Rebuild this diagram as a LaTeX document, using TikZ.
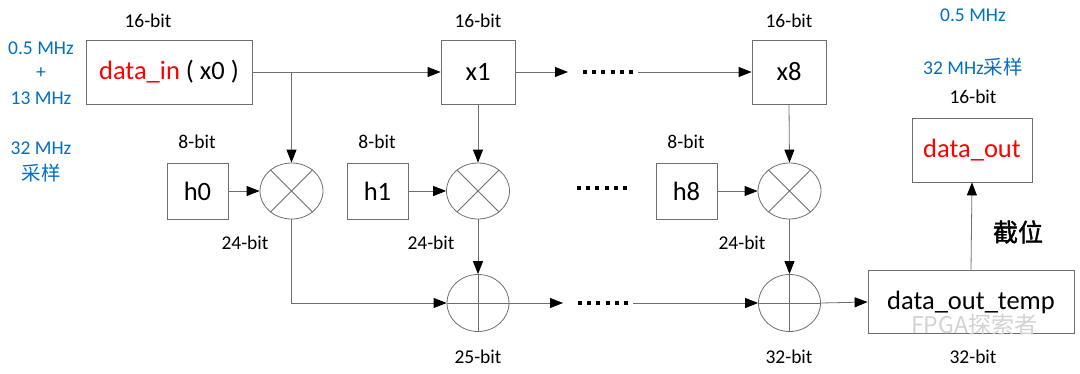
\documentclass[tikz,border=0pt]{standalone}
\usepackage{fontspec}
\setmainfont{Carlito}
\newfontfamily\cjk{Noto Sans CJK SC}
\newfontfamily\cjkb[FakeBold=1.6]{Noto Sans CJK SC}
\usetikzlibrary{shapes.geometric,arrows.meta}
\definecolor{lblue}{RGB}{0,112,192}
\definecolor{lgray}{RGB}{110,110,110}
\begin{document}
\begin{tikzpicture}[x=1pt,y=-1pt,
  lbl/.style={font=\fontsize{19.5}{22}\selectfont, inner sep=0pt},
  blu/.style={font=\fontsize{19.5}{22}\selectfont, text=lblue, inner sep=0pt},
  blk/.style={draw=lgray, line width=0.8pt, inner sep=0pt, font=\fontsize{26.5}{30}\selectfont},
  op/.style={ellipse, draw=lgray, line width=0.8pt, inner sep=0pt},
  ln/.style={draw=lgray, line width=0.8pt},
  arr/.style={ln, -{Triangle[length=13pt,width=10pt,color=black]}},
  dots/.style={line width=4pt, dash pattern=on 4pt off 5.2pt, black}
]
\useasboundingbox (0,0) rectangle (1080,373);
% blue labels
\node[blu] (l1) at (41,48) {0.5 MHz};
\node[blu] (l2) at (41,73) {+};
\node[blu] (l3) at (41,98) {13 MHz};
\node[blu] (l4) at (41,148) {32 MHz};
\node[blu] (l5) at (41,173) {\cjk 采样};
\node[blu] (r1) at (973,15) {0.5 MHz};
\node[blu] (r2) at (973,67) {32 MHz{\cjk 采样}};
% boxes
\node[blk, minimum width=166pt, minimum height=64pt] (din) at (169,72) {\textcolor{red}{data\_in} ( x0 )};
\node[blk, minimum width=74pt, minimum height=64pt] (x1) at (478,72) {x1};
\node[blk, minimum width=74pt, minimum height=64pt] (x8) at (789,72) {x8};
\node[blk, minimum width=61pt, minimum height=56pt] (h0) at (197.5,191) {h0};
\node[blk, minimum width=61pt, minimum height=56pt] (h1) at (377.5,191) {h1};
\node[blk, minimum width=61pt, minimum height=56pt] (h8) at (686.5,191) {h8};
\node[blk, minimum width=206pt, minimum height=63pt] (tmp) at (971,302) {data\_out\_temp};
\node[blk, minimum width=120pt, minimum height=64pt] (dout) at (972,150) {\textcolor{red}{data\_out}};
% operators
\foreach \n/\x in {m0/291.5, m1/478, m8/789.5}{
  \node[op, minimum width=63pt, minimum height=56pt] (\n) at (\x,191) {};
  \draw[ln] (\n.45) -- (\n.225) (\n.135) -- (\n.315);
}
\foreach \n/\x in {a1/478, a8/789.5}{
  \node[op, minimum width=62pt, minimum height=57pt] (\n) at (\x,303) {};
  \draw[ln] (\n.north) -- (\n.south) (\n.west) -- (\n.east);
}
% bit labels
\node[lbl] (b1) at (148,21) {16-bit};
\node[lbl] (b2) at (478,21) {16-bit};
\node[lbl] (b3) at (789,21) {16-bit};
\node[lbl] (b4) at (973,97) {16-bit};
\node[lbl] (b5) at (197,142) {8-bit};
\node[lbl] (b6) at (377,142) {8-bit};
\node[lbl] (b7) at (686,142) {8-bit};
\node[lbl] (b8) at (245,243) {24-bit};
\node[lbl] (b9) at (431,243) {24-bit};
\node[lbl] (b10) at (742,243) {24-bit};
\node[lbl] (b11) at (478,357) {25-bit};
\node[lbl] (b12) at (789,357) {32-bit};
\node[lbl] (b13) at (973,357) {32-bit};
\node[inner sep=0pt, font=\fontsize{25}{28}\selectfont\cjkb] (cut) at (1018,232) {截位};
\node[inner sep=0pt, text=gray!35, font=\fontsize{23}{26}\selectfont\cjk] (wm) at (974,325) {FPGA探索者};
% coordinates for dotted gaps
\coordinate (t1) at (568,72);
\coordinate (t2) at (638,72);
\coordinate (u1) at (563,303);
\coordinate (u2) at (633,303);
% connectors
\draw[arr] (din.east) -- (x1.west);
\draw[arr] (m0.north |- din.east) -- (m0.north);
\draw[arr] (x1.east) -- (t1);
\draw[dots] (583,72) -- (633,72);
\draw[arr] (t2) -- (x8.west);
\draw[arr] (x1.south) -- (m1.north);
\draw[arr] (x8.south) -- (m8.north);
\draw[arr] (h0.east) -- (m0.west);
\draw[arr] (h1.east) -- (m1.west);
\draw[arr] (h8.east) -- (m8.west);
\draw[dots] (577,188) -- (627,188);
\draw[arr] (m0.south) -- (m0.south |- a1.west) -- (a1.west);
\draw[arr] (m1.south) -- (a1.north);
\draw[arr] (m8.south) -- (a8.north);
\draw[arr] (a1.east) -- (u1);
\draw[dots] (578,303) -- (628,303);
\draw[arr] (u2) -- (a8.west);
\draw[arr] (a8.east) -- (tmp.west);
\draw[arr] (tmp.north) -- (dout.south);
\end{tikzpicture}
\end{document}
